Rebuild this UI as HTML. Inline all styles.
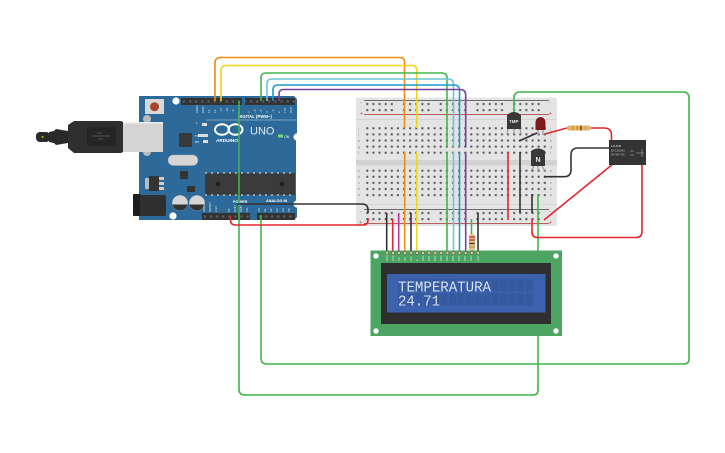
<!DOCTYPE html>
<html><head><meta charset="utf-8"><style>
html,body{margin:0;padding:0;background:#fff;width:725px;height:453px;overflow:hidden}
svg{display:block}
text{font-family:"Liberation Sans",sans-serif}
.w{fill:none;stroke-width:1.6;stroke-linejoin:round}
</style></head><body>
<svg width="725" height="453" viewBox="0 0 725 453" xmlns="http://www.w3.org/2000/svg">
<defs>
<pattern id="h" patternUnits="userSpaceOnUse" x="365.2" y="125.3" width="6.12" height="6.1"><rect x="1.1" y="2" width="2" height="2" fill="#555"/></pattern>
<pattern id="h2" patternUnits="userSpaceOnUse" x="365.2" y="167.7" width="6.12" height="6.1"><rect x="1.1" y="2" width="2" height="2" fill="#555"/></pattern>
<pattern id="r" patternUnits="userSpaceOnUse" x="365.2" y="101" width="36.72" height="6.1"><g fill="#555"><rect x="1.1" y="2" width="2" height="2"/><rect x="7.2" y="2" width="2" height="2"/><rect x="13.3" y="2" width="2" height="2"/><rect x="19.5" y="2" width="2" height="2"/><rect x="25.6" y="2" width="2" height="2"/></g></pattern>
<pattern id="r2" patternUnits="userSpaceOnUse" x="365.2" y="210" width="36.72" height="6.1"><g fill="#555"><rect x="1.1" y="2" width="2" height="2"/><rect x="7.2" y="2" width="2" height="2"/><rect x="13.3" y="2" width="2" height="2"/><rect x="19.5" y="2" width="2" height="2"/><rect x="25.6" y="2" width="2" height="2"/></g></pattern>
<pattern id="pin" patternUnits="userSpaceOnUse" x="181" y="98" width="6.1" height="7"><rect width="6.1" height="7" fill="#333"/><rect x="2" y="2.5" width="2" height="2" fill="#666"/></pattern>
<pattern id="pin2" patternUnits="userSpaceOnUse" x="202" y="213" width="6.1" height="7"><rect width="6.1" height="7" fill="#333"/><rect x="2" y="2.5" width="2" height="2" fill="#666"/></pattern>
<pattern id="cell" patternUnits="userSpaceOnUse" x="398" y="279" width="8.5" height="14.2"><rect x="0" y="0" width="7.4" height="12.8" fill="#365a9f"/></pattern>
</defs>

<!-- Arduino -->
<path d="M139 96h155l3 3v35l-1 2v67l1 2v12l-3 3H139z" fill="#2d6a99"/>
<rect x="145" y="99" width="19" height="15" fill="#d8d8d8"/>
<circle cx="154.500" cy="106.700" r="4.500" fill="#a8452c"/>
<circle cx="176" cy="101" r="3.600" fill="#fff"/><circle cx="297" cy="137" r="3.600" fill="#fff"/><circle cx="297" cy="204" r="3.600" fill="#fff"/><circle cx="173" cy="216" r="3.600" fill="#fff"/>
<rect x="181" y="98" width="61" height="7" fill="url(#pin)"/><rect x="245" y="98" width="50" height="7" fill="url(#pin)"/>
<rect x="202" y="213" width="48" height="7" fill="url(#pin2)"/><rect x="257" y="213" width="38" height="7" fill="url(#pin2)"/>
<!-- USB -->
<ellipse cx="147" cy="119" rx="4" ry="4" fill="#bbb"/><ellipse cx="147" cy="152" rx="4" ry="4" fill="#bbb"/>
<rect x="123" y="122" width="40" height="30" fill="#d4d4d4"/><rect x="123" y="122" width="40" height="1.500" fill="#eee"/>
<path d="M68 125l6-4h47l2 1v30l-2 1H74l-6-5z" fill="#2f2f2f"/>
<rect x="87" y="127" width="29" height="19" fill="#252525"/>
<path d="M92 136h18M97 133h5M98 139h5" stroke="#555" stroke-width="1" fill="none"/>
<path d="M49 132l5-1 2-2 12 2v12l-12 2-2-2-5-1z" fill="#2a2a2a"/>
<rect x="36" y="132" width="14" height="10" rx="4" fill="#2b2b2b"/><circle cx="42.500" cy="137" r="1" fill="#cdbb33"/>
<!-- Arduino parts -->
<rect x="179" y="133" width="13" height="14" fill="#3a3a3a"/>
<rect x="198" y="134" width="7" height="3" fill="#ddd"/><rect x="202" y="123" width="5" height="3" fill="#ddd"/><rect x="203" y="134" width="5" height="3" fill="#ddd"/><rect x="203" y="140" width="5" height="3" fill="#ddd"/>
<rect x="168" y="155" width="30" height="10.500" rx="5.200" fill="#d6d6d6" stroke="#aaa" stroke-width=".5"/>
<rect x="149" y="176" width="10" height="15" fill="#333"/><rect x="145" y="178" width="4" height="11" fill="#bbb"/><rect x="159" y="177" width="5" height="3" fill="#ccc"/><rect x="159" y="182" width="5" height="3" fill="#ccc"/><rect x="159" y="187" width="5" height="3" fill="#ccc"/>
<rect x="180" y="171" width="8" height="8" fill="#333"/>
<rect x="187" y="186" width="8" height="6" fill="#333"/>
<rect x="205" y="173" width="90" height="22" fill="#3b3b3b"/>
<path d="M205 173h90M205 195h90" stroke="#ccc" stroke-width="1.200" stroke-dasharray="2 4"/>
<circle cx="218" cy="184" r="2.300" fill="#1f1f1f"/><circle cx="282" cy="184" r="2.300" fill="#1f1f1f"/>
<rect x="133" y="194" width="8" height="22" rx="1" fill="#1d1d1d"/><rect x="140" y="195" width="26" height="21" rx="2" fill="#2f2f2f"/>
<circle cx="180" cy="203" r="7.800" fill="#d5d5d5"/><path d="M172.400 204.500a7.800 7.800 0 0 0 15.200 0z" fill="#333"/>
<circle cx="197" cy="203" r="7.800" fill="#d5d5d5"/><path d="M189.400 204.500a7.800 7.800 0 0 0 15.200 0z" fill="#333"/>
<!-- logo -->
<ellipse cx="222" cy="129.500" rx="7" ry="5.300" fill="none" stroke="#fff" stroke-width="2"/><ellipse cx="235.500" cy="129.500" rx="7" ry="5.300" fill="none" stroke="#fff" stroke-width="2"/>
<text x="216" y="142" font-size="4.700" font-weight="bold" fill="#fff">ARDUINO</text>
<text x="250" y="134.500" font-size="11" fill="#dfe9f0">UNO</text>
<text x="238" y="118" font-size="4.300" font-weight="bold" fill="#fff">DIGITAL (PWM~)</text>
<path d="M206 120l92 0" stroke="#cfdce6" stroke-width=".5"/>
<rect x="278" y="134.500" width="5" height="3" fill="#6fdc6f"/><text x="284" y="138" font-size="3.600" fill="#fff">ON</text>
<text x="233" y="203" font-size="3.800" font-weight="bold" fill="#fff">POWER</text>
<text x="266" y="202" font-size="3.800" font-weight="bold" fill="#fff">ANALOG IN</text>
<text x="196" y="124" font-size="3" fill="#fff">L</text><text x="195" y="137" font-size="3" fill="#fff">TX</text><text x="195" y="143" font-size="3" fill="#fff">RX</text>
<g fill="#e6eef4" font-size="3" transform="rotate(-90)"><text x="-113" y="198">AREF</text><text x="-113" y="204">GND</text><text x="-113" y="210">13</text><text x="-113" y="216">12</text><text x="-113" y="222">~11</text><text x="-113" y="228">~10</text><text x="-113" y="234">~9</text><text x="-113" y="240">8</text><text x="-113" y="250">7</text><text x="-113" y="256">~6</text><text x="-113" y="262">~5</text><text x="-113" y="268">4</text><text x="-113" y="274">~3</text><text x="-113" y="280">2</text><text x="-113" y="286">TX1</text><text x="-113" y="292">RX0</text>
<text x="-212" y="205">IOREF</text><text x="-212" y="211">RESET</text><text x="-212" y="217">3.3V</text><text x="-212" y="230">5V</text><text x="-212" y="236">GND</text><text x="-212" y="242">GND</text><text x="-212" y="248">Vin</text><text x="-212" y="260">A0</text><text x="-212" y="266">A1</text><text x="-212" y="272">A2</text><text x="-212" y="278">A3</text><text x="-212" y="284">A4</text><text x="-212" y="290">A5</text></g>

<!-- Breadboard -->
<rect x="356" y="97.500" width="201" height="128.500" rx="1.500" fill="#e4e4e4"/>
<rect x="356" y="160" width="201" height="5.500" fill="#d2d2d2"/>
<path d="M356 119.500h201M356 204.500h201" stroke="#d0d0d0" stroke-width=".8"/>
<path d="M364 100.500h185M364 209.500h185" stroke="#444" stroke-width=".7"/>
<path d="M364 114.500h185M364 223.500h185" stroke="#a33" stroke-width=".8"/>
<rect x="366" y="101" width="181" height="12.200" fill="url(#r)"/>
<rect x="366" y="210" width="181" height="12.200" fill="url(#r2)"/>
<rect x="365.200" y="125.300" width="183.600" height="30.500" fill="url(#h)"/>
<rect x="365.200" y="167.700" width="183.600" height="30.500" fill="url(#h2)"/>
<g font-size="5" fill="#777"><text x="360" y="104">-</text><text x="360" y="115" fill="#b33">+</text><text x="549" y="104">-</text><text x="549" y="115" fill="#b33">+</text><text x="360" y="213">-</text><text x="359" y="224" fill="#b33">+</text><text x="549" y="213">-</text><text x="549" y="224" fill="#b33">+</text></g>
<g font-size="3.600" fill="#888"><text x="358" y="130">j</text><text x="358" y="136">i</text><text x="358" y="142">h</text><text x="358" y="148">g</text><text x="358" y="154">f</text><text x="358" y="172">e</text><text x="358" y="178">d</text><text x="358" y="184">c</text><text x="358" y="190">b</text><text x="358" y="196">a</text><text x="550" y="130">j</text><text x="550" y="136">i</text><text x="550" y="142">h</text><text x="550" y="148">g</text><text x="550" y="154">f</text><text x="550" y="172">e</text><text x="550" y="178">d</text><text x="550" y="184">c</text><text x="550" y="190">b</text><text x="550" y="196">a</text></g>

<!-- Wires under LCD -->
<path class="w" stroke="#3fb54a" d="M239 101V389q0 6 6 6H533q5 0 5-5V194"/>
<path class="w" stroke="#3fb54a" d="M261 215V358q0 6 6 6H684q5 0 5-5V98q0-6-6-6H520q-6 0-6 6V113"/>
<path class="w" stroke="#f08a10" d="M215 101V63q0-5.500 5.500-5.500H400q4.500 0 4.500 4.500V128M404.700 152V251"/>
<path class="w" stroke="#f5d214" d="M221 101V71q0-5.500 5.500-5.500H412q4.700 0 4.700 4.700V128M416.700 152V251"/>
<path class="w" stroke="#3fb54a" d="M261 101V78q0-5 5-5H442q5 0 5 5V147M447 152V251"/>
<path class="w" stroke="#6cc6d8" d="M267 101V84q0-5 5-5H448q5.500 0 5.500 5.500V147M453.500 152V251"/>
<path class="w" stroke="#1f9ad0" d="M273 101V90q0-5 5-5H454q5.500 0 5.500 5.500V147M459.500 152V251"/>
<path class="w" stroke="#7a3f9d" d="M279 101V94q0-4.500 4.500-4.500H460q5.700 0 5.700 5.700V147M465.700 152V251"/>
<path class="w" stroke="#333" d="M237 204H362q6 0 6 6V213"/>
<path class="w" stroke="#e32530" d="M230.500 216V220q0 5 5 5H363q5 0 5-5V218"/>
<path class="w" stroke="#333" d="M386.700 213V251M411 213V251M478 213V251"/>
<path class="w" stroke="#e32530" d="M392.700 219V251"/>
<path class="w" stroke="#c0359c" d="M398.700 213V251"/>
<path class="w" stroke="#3fb54a" d="M471.500 219V235"/>
<path class="w" stroke="#e32530" d="M508 152V220"/>
<path class="w" stroke="#333" d="M520 152V213M532 194V213M519 141L537 133"/>
<path class="w" stroke="#e32530" d="M532 219V232q0 5.500 5.500 5.500H636q6 0 6-6V164M544 220L613 164M545 134L567 128M591 128H604q7.500 0 7.500 7.500V140"/>
<path class="w" stroke="#333" d="M544 176.700H564q7 0 7-7V155q0-7 7-7H610"/>

<!-- Resistor horizontal -->
<rect x="567" y="125.500" width="24" height="5" rx="2.200" fill="#dfb870"/>
<path d="M573 125.500v5M577 125.500v5" stroke="#d98a1a" stroke-width="1.400"/><path d="M581 125.500v5" stroke="#6a3a1a" stroke-width="1.400"/><path d="M585.500 125.500v5" stroke="#c9a030" stroke-width="1"/>
<!-- Resistor vertical -->
<rect x="469" y="234" width="6" height="17" rx="2.400" fill="#dfc28a"/>
<path d="M469 237h6M469 240h6" stroke="#d8262b" stroke-width="1.300"/><path d="M469 243.500h6" stroke="#5b3418" stroke-width="1.300"/><path d="M469 247h6" stroke="#b09030" stroke-width="1"/>
<!-- TMP -->
<path d="M508 129l-1 5M514 129v5M520 129l1 5" stroke="#9a9a9a" stroke-width="1.200"/>
<path d="M507 115q7-6 14 0v14h-14z" fill="#383838"/>
<text x="509" y="123" font-size="4.500" font-weight="bold" fill="#e8e8e8">TMP</text>
<!-- LED -->
<path d="M538 130v5M543 130v5" stroke="#9a9a9a" stroke-width="1.200"/>
<path d="M535.500 122a5 5 0 0 1 10 0v8h-10z" fill="#7e1a1a"/>
<!-- Transistor -->
<path d="M534 166l-3 5M538 166v6M542 166l3 5" stroke="#9a9a9a" stroke-width="1.200"/>
<path d="M531 151q7-5 14 0v15h-14z" fill="#383838"/>
<text x="535.500" y="162" font-size="7" font-weight="bold" fill="#e8e8e8">N</text>
<!-- Relay -->
<rect x="609" y="140" width="37" height="25" fill="#333"/>
<text x="611" y="147" font-size="3" font-weight="bold" fill="#ddd">LU-5-R</text>
<text x="611" y="151.500" font-size="2.800" fill="#ccc">5A 125VAC</text>
<text x="611" y="155.500" font-size="2.800" fill="#ccc">5A 30V DC</text>
<path d="M630 151h4M630 155h4M636 153h8M642 149v8" stroke="#bbb" stroke-width=".6" fill="none"/>

<!-- LCD -->
<rect x="370.500" y="250.500" width="191.500" height="85.500" fill="#4ca562"/>
<circle cx="376" cy="256" r="2.700" fill="#fff"/><circle cx="556" cy="256" r="2.700" fill="#fff"/><circle cx="376" cy="331" r="2.700" fill="#fff"/><circle cx="556" cy="331" r="2.700" fill="#fff"/>
<g fill="#d9d9a8" stroke="#6b6b50" stroke-width=".7"><circle cx="387" cy="253" r="1.500"/><circle cx="393" cy="253" r="1.500"/><circle cx="399" cy="253" r="1.500"/><circle cx="405" cy="253" r="1.500"/><circle cx="411.100" cy="253" r="1.500"/><circle cx="417" cy="253" r="1.500"/><circle cx="423.100" cy="253" r="1.500"/><circle cx="429.200" cy="253" r="1.500"/><circle cx="435.200" cy="253" r="1.500"/><circle cx="441.200" cy="253" r="1.500"/><circle cx="447.300" cy="253" r="1.500"/><circle cx="453.400" cy="253" r="1.500"/><circle cx="459.500" cy="253" r="1.500"/><circle cx="465.700" cy="253" r="1.500"/><circle cx="471.800" cy="253" r="1.500"/><circle cx="478" cy="253" r="1.500"/></g>
<g font-size="2.800" fill="#d5e8da" transform="rotate(-90)"><text x="-261" y="388">GND</text><text x="-261" y="394">VCC</text><text x="-261" y="400">V0</text><text x="-261" y="406">RS</text><text x="-261" y="412">RW</text><text x="-261" y="418">E</text><text x="-261" y="424">DB0</text><text x="-261" y="430">DB1</text><text x="-261" y="436">DB2</text><text x="-261" y="442">DB3</text><text x="-261" y="448">DB4</text><text x="-261" y="454">DB5</text><text x="-261" y="460">DB6</text><text x="-261" y="466">DB7</text><text x="-261" y="472">LED</text><text x="-261" y="479">LED</text></g>
<rect x="381" y="263" width="170" height="61" fill="#2f2f2f"/>
<rect x="387" y="274" width="158.500" height="38.500" fill="#3c62ae"/>
<rect x="398" y="279" width="136" height="28.400" fill="url(#cell)"/>
<text x="398" y="291.500" font-size="15" fill="#d8e2f2" textLength="93" lengthAdjust="spacingAndGlyphs" style="font-family:'Liberation Mono',monospace">TEMPERATURA</text>
<text x="398" y="305.500" font-size="15" fill="#d8e2f2" textLength="42" lengthAdjust="spacingAndGlyphs" style="font-family:'Liberation Mono',monospace">24.71</text>
</svg>
</body></html>
